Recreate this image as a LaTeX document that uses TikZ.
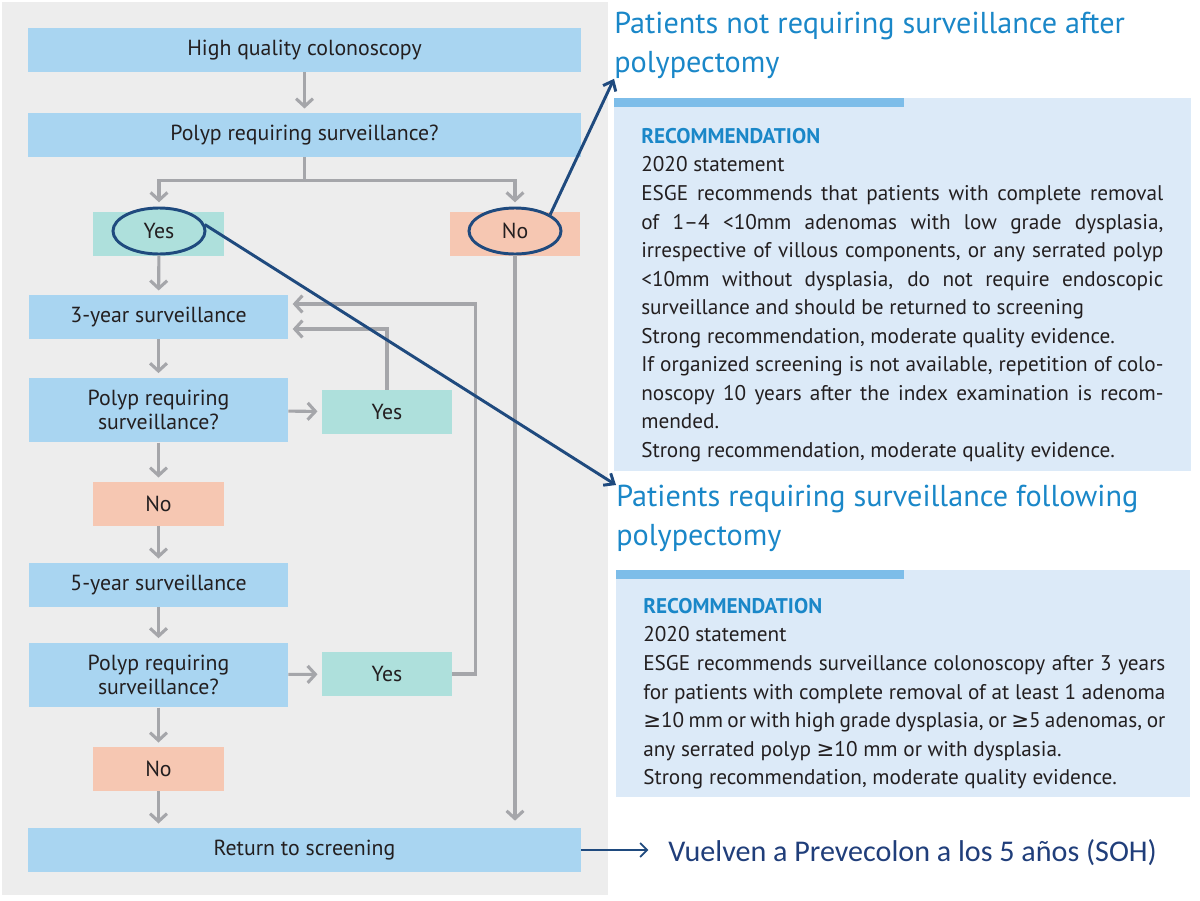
\documentclass[tikz,border=0pt]{standalone}
\usepackage{fontspec}
\setmainfont{PT Sans}
\newfontfamily\callfont{Carlito}
\newfontfamily\symfont{DejaVu Sans}
\usetikzlibrary{arrows.meta,shapes.geometric}

\definecolor{panelgray}{HTML}{EDEDED}
\definecolor{boxblue}{HTML}{A9D5F1}
\definecolor{yesgreen}{HTML}{AEE0DC}
\definecolor{nosalmon}{HTML}{F6C7B2}
\definecolor{linegray}{HTML}{A5A6AA}
\definecolor{navy}{HTML}{1F4A7E}
\definecolor{ttlblue}{HTML}{1A87C8}
\definecolor{recfill}{HTML}{DCEAF8}
\definecolor{recbar}{HTML}{7DBDE9}
\definecolor{inkgray}{HTML}{231F20}
\definecolor{sohblue}{HTML}{203E7A}

\tikzset{
  flowbox/.style={fill=boxblue, text=inkgray, minimum height=1.1cm, inner sep=0pt, align=center, font=\fontsize{15.5}{17.5}\selectfont},
  widebox/.style={flowbox, minimum width=13.8cm},
  midbox/.style={flowbox, minimum width=6.48cm},
  yesbox/.style={flowbox, fill=yesgreen, minimum width=3.25cm},
  nobox/.style={flowbox, fill=nosalmon, minimum width=3.25cm},
  ring/.style={ellipse, draw=navy, line width=2.1pt, minimum width=2.3cm, minimum height=1.15cm, inner sep=0pt, text=inkgray, font=\fontsize{15.5}{17.5}\selectfont},
  garrow/.style={draw=linegray, line width=2.2pt, -{Straight Barb[length=5.5pt,width=12pt]}, shorten >=3pt},
  navyarrow/.style={draw=navy, line width=2.1pt, -{Straight Barb[length=6pt,width=10pt]}},
  ttl/.style={anchor=north west, inner sep=0pt, align=left, text=ttlblue, font=\fontsize{21.5}{27.5}\selectfont},
  rectext/.style={anchor=north west, inner sep=0pt, text width=13.05cm, align=justify, text=inkgray, font=\fontsize{15.1}{20.3}\selectfont},
}

\begin{document}
\begin{tikzpicture}[x=0.025cm, y=-0.025cm]
\useasboundingbox (0,0) rectangle (1200,900);
\fill[panelgray] (2,2) rectangle (608,895);

% flowchart
\node[widebox] (hq) at (304.5,50) {High quality colonoscopy};
\node[widebox] (pq) at (304.5,135) {Polyp requiring surveillance?};
\node[yesbox] (yesbox) at (158.5,234) {};
\node[nobox] (nobox) at (515,234) {};
\node[ring, fill=yesgreen] (yes) at (159,231) {Yes};
\node[ring, fill=nosalmon] (no) at (515,231) {No};
\node[midbox] (y3) at (158.5,317) {3-year surveillance};
\node[midbox, minimum height=1.62cm] (pq2) at (158.5,410) {Polyp requiring\\surveillance?};
\node[yesbox] (yes2) at (387,412) {Yes};
\node[nobox] (no2) at (158.5,504) {No};
\node[midbox] (y5) at (158.5,585) {5-year surveillance};
\node[midbox, minimum height=1.62cm] (pq3) at (158.5,675) {Polyp requiring\\surveillance?};
\node[yesbox] (yes3) at (387,674) {Yes};
\node[nobox] (no3) at (158.5,769) {No};
\node[widebox] (ret) at (304.5,850) {Return to screening};

\draw[garrow] (hq) -- (pq);
\draw[garrow] (pq.south) -- ++(0,23) -| (yes.north);
\draw[garrow] (pq.south) -- ++(0,23) -| (no.north);
\draw[garrow] (yes) -- (y3);
\draw[garrow] (y3) -- (pq2);
\draw[garrow] (pq2) -- (yes2);
\draw[garrow] (yes2.north) |- ([yshift=-0.3cm]y3.east);
\draw[garrow] (pq2) -- (no2);
\draw[garrow] (no2) -- (y5);
\draw[garrow] (y5) -- (pq3);
\draw[garrow] (pq3) -- (yes3);
\draw[garrow] (yes3.east) -- ++(23,0) |- ([yshift=0.325cm]y3.east);
\draw[garrow] (pq3) -- (no3);
\draw[garrow] (no3) -- (no3 |- ret.north);
\draw[garrow, shorten >=5pt] (no.south) -- (no.south |- ret.north);

% recommendations
\fill[recfill] (614,98) rectangle (1191,471);
\fill[recbar] (614,98) rectangle (904,107);
\fill[recfill] (616,570) rectangle (1190,797);
\fill[recbar] (616,570) rectangle (904,579);

\node[ttl] (ttlA) at (614,12) {Patients not requiring surveillance after\\polypectomy};
\node[ttl] (ttlB) at (616,485) {Patients requiring surveillance following\\polypectomy};

\node[rectext] (recA) at (641,128) {{\bfseries\color{ttlblue}RECOMMENDATION}\\
2020 statement\\
ESGE recommends that patients with complete removal\linebreak
of 1–4 <10mm adenomas with low grade dysplasia,\linebreak
irrespective of villous components, or any serrated polyp\linebreak
<10mm without dysplasia, do not require endoscopic\linebreak
surveillance and should be returned to screening\\
Strong recommendation, moderate quality evidence.\\
If organized screening is not available, repetition of colo-\linebreak
noscopy 10 years after the index examination is recom-\linebreak
mended.\\
Strong recommendation, moderate quality evidence.};

\node[rectext] (recB) at (643,598) {{\bfseries\color{ttlblue}RECOMMENDATION}\\
2020 statement\\
ESGE recommends surveillance colonoscopy after 3 years\linebreak
for patients with complete removal of at least 1 adenoma\linebreak
{\symfont ≥}10 mm or with high grade dysplasia, or {\symfont ≥}5 adenomas, or\linebreak
any serrated polyp {\symfont ≥}10 mm or with dysplasia.\\
Strong recommendation, moderate quality evidence.};

\node[anchor=west, inner sep=0pt, text=sohblue, font=\callfont\fontsize{21.4}{25}\selectfont] (soh) at (668,853) {Vuelven a Prevecolon a los 5 años (SOH)};

\draw[navyarrow] (no.25) -- (ttlA.south west);
\draw[navyarrow] (yes.8) -- (ttlB.north west);
\draw[navy, line width=1.2pt, -{Straight Barb[length=5pt,width=10pt]}, shorten >=14pt] (ret.east) -- (ret.east -| soh.west);
\end{tikzpicture}
\end{document}
